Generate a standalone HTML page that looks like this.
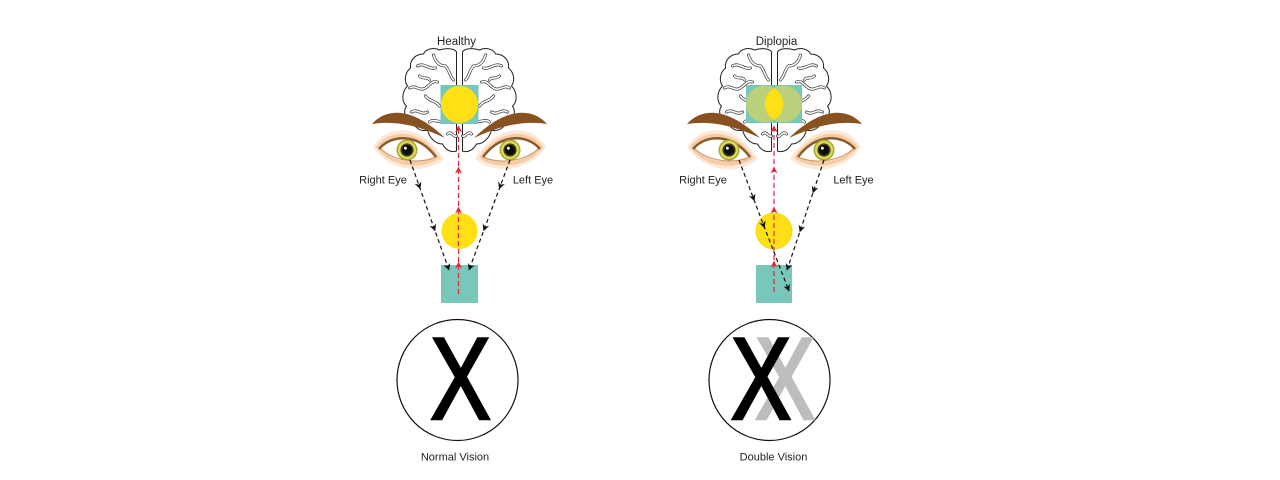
<!DOCTYPE html>
<html>
<head>
<meta charset="utf-8">
<style>
  html,body{margin:0;padding:0;background:#fff;}
  svg{display:block;}
  text{font-family:"Liberation Sans",Arial,sans-serif;}
</style>
</head>
<body>
<svg width="1280" height="480" viewBox="0 0 1280 480" xmlns="http://www.w3.org/2000/svg">
  <defs>
    <marker id="abm" viewBox="0 0 10 10" refX="5" refY="5" markerWidth="7" markerHeight="7" orient="auto" markerUnits="userSpaceOnUse">
      <path d="M0,0 L10,5 L0,10 L3,5 Z" fill="#111"/>
    </marker>
    <marker id="abe" viewBox="0 0 10 10" refX="9" refY="5" markerWidth="7" markerHeight="7" orient="auto" markerUnits="userSpaceOnUse">
      <path d="M0,0 L10,5 L0,10 L3,5 Z" fill="#111"/>
    </marker>
    <marker id="arm" viewBox="0 0 10 10" refX="5" refY="5" markerWidth="7" markerHeight="7" orient="auto" markerUnits="userSpaceOnUse">
      <path d="M0,0 L10,5 L0,10 L3,5 Z" fill="#e3263a"/>
    </marker>
    <marker id="are" viewBox="0 0 10 10" refX="9" refY="5" markerWidth="7" markerHeight="7" orient="auto" markerUnits="userSpaceOnUse">
      <path d="M0,0 L10,5 L0,10 L3,5 Z" fill="#e3263a"/>
    </marker>

    <path id="hemi" d="M -3,52 C -5,48 -14,48 -20,50 C -26,47 -34,49 -36,54 C -44,54 -50,60 -49,68 C -54,72 -56,80 -52,86 C -58,92 -58,102 -53,106 C -57,112 -54,120 -47,120 C -46,128 -38,132 -32,130 C -30,138 -24,144 -17,144 C -14,150 -8,153 -3,151 Z"/>
    <path id="gyri" d="M -42,66 C -36,62 -30,70 -24,68 M -26,55 C -24,62 -20,66 -14,66 C -10,70 -10,76 -6,80 M -50,88 C -44,84 -40,92 -34,88 C -30,86 -28,80 -22,82 M -34,96 C -30,102 -24,100 -20,106 M -48,112 C -42,108 -38,116 -32,112 M -30,122 C -26,118 -20,124 -14,120 M -12,134 C -8,130 -6,138 -3,136 M -40,76 C -36,80 -32,76 -30,80"/>

    <g id="eyeshape">
      <path d="M -35,-3 C -21,-27 14,-27 36,9 C 17,25 -17,23 -35,-3 Z" fill="#fce8d6"/>
      <path d="M -32,-3 C -19,-22 13,-22 32,8 C 15,20 -16,19 -32,-3 Z" fill="#f7cba3"/>
      <path d="M -28,-2 C -16,-15 10,-16 28,7 C 12,14 -14,14 -28,-2 Z" fill="#ffffff"/>
      <path d="M -28,-2 C -14,12 12,14 28,7" fill="none" stroke="#c99468" stroke-width="1"/>
      <path d="M -29,-1 C -16,-16 10,-17 28,7" fill="none" stroke="#8a5a2a" stroke-width="2.4"/>
    </g>
    <g id="iris">
      <circle r="10.5" fill="#a7a634"/>
      <circle r="9" fill="#dcdc52"/>
      <circle r="6.6" fill="#3d3d18"/>
      <circle r="5" fill="#0d0d0d"/>
      <circle cx="-1.6" cy="-1.8" r="1.4" fill="#fff"/>
    </g>
    <path id="brow" d="M 372,124 C 386,108 412,106 445,138 C 422,127 398,120 372,124 Z" fill="#87521f"/>
  </defs>

  <rect width="1280" height="480" fill="#fff"/>

  <!-- ============ HEALTHY ============ -->
  <text x="456.5" y="45" font-size="11.5" text-anchor="middle" fill="#222">Healthy</text>

  <g transform="translate(459.5,0)">
    <use href="#hemi" fill="#fff" stroke="#222" stroke-width="1"/>
    <use href="#gyri" fill="none" stroke="#333" stroke-width="3" stroke-linecap="round"/>
    <use href="#gyri" fill="none" stroke="#fff" stroke-width="1.6" stroke-linecap="round"/>
    <g transform="scale(-1,1)">
      <use href="#hemi" fill="#fff" stroke="#222" stroke-width="1"/>
      <use href="#gyri" fill="none" stroke="#333" stroke-width="3" stroke-linecap="round"/>
      <use href="#gyri" fill="none" stroke="#fff" stroke-width="1.6" stroke-linecap="round"/>
    </g>
  </g>

  <rect x="440.5" y="85" width="38" height="39" fill="#79c6ba"/>
  <circle cx="459.5" cy="104.5" r="18.5" fill="#ffe014"/>

  <use href="#brow"/>
  <use href="#brow" transform="translate(919,0) scale(-1,1)"/>

  <use href="#eyeshape" transform="translate(408,150)"/>
  <use href="#iris" transform="translate(407,150)"/>
  <use href="#eyeshape" transform="translate(511,150) scale(-1,1)"/>
  <use href="#iris" transform="translate(510,150)"/>

  <text x="383" y="183.5" font-size="11" text-anchor="middle" fill="#222">Right Eye</text>
  <text x="533" y="183.5" font-size="11" text-anchor="middle" fill="#222">Left Eye</text>

  <rect x="441" y="265" width="37" height="38" fill="#79c6ba"/>
  <circle cx="459.5" cy="231" r="18" fill="#ffe014"/>

  <path d="M 410,160 L 419.2,186 L 434,228 L 449,270" fill="none" stroke="#111" stroke-width="1.2" stroke-dasharray="4 3" marker-mid="url(#abm)" marker-end="url(#abe)"/>
  <path d="M 510,160 L 500.3,186 L 484.7,228 L 469,270" fill="none" stroke="#111" stroke-width="1.2" stroke-dasharray="4 3" marker-mid="url(#abm)" marker-end="url(#abe)"/>
  <path d="M 458.5,294 L 458.5,265 L 458.5,210 L 458.5,170 L 458.5,126" fill="none" stroke="#e3263a" stroke-width="1.2" stroke-dasharray="5 3" marker-mid="url(#arm)" marker-end="url(#are)"/>

  <circle cx="457.5" cy="380" r="60.5" fill="#fff" stroke="#111" stroke-width="1.2"/>
  <text transform="translate(460.5,419) scale(0.78,1)" font-size="117" text-anchor="middle" fill="#000" stroke="#000" stroke-width="2.6">X</text>
  <text x="455" y="460.5" font-size="11" text-anchor="middle" fill="#222">Normal Vision</text>

  <!-- ============ DIPLOPIA ============ -->
  <text x="776.5" y="45" font-size="11.5" text-anchor="middle" fill="#222">Diplopia</text>

  <g transform="translate(774.5,0)">
    <use href="#hemi" fill="#fff" stroke="#222" stroke-width="1"/>
    <use href="#gyri" fill="none" stroke="#333" stroke-width="3" stroke-linecap="round"/>
    <use href="#gyri" fill="none" stroke="#fff" stroke-width="1.6" stroke-linecap="round"/>
    <g transform="scale(-1,1)">
      <use href="#hemi" fill="#fff" stroke="#222" stroke-width="1"/>
      <use href="#gyri" fill="none" stroke="#333" stroke-width="3" stroke-linecap="round"/>
      <use href="#gyri" fill="none" stroke="#fff" stroke-width="1.6" stroke-linecap="round"/>
    </g>
  </g>

  <rect x="746" y="85" width="56" height="38" fill="#79c6ba"/>
  <circle cx="764.5" cy="104" r="18.5" fill="#bad07a"/>
  <circle cx="783.5" cy="104" r="18.5" fill="#bad07a"/>
  <path d="M 774,88 A 18.5,18.5 0 0 1 774,120 A 18.5,18.5 0 0 1 774,88 Z" fill="#ffe014"/>

  <use href="#brow" transform="translate(315,0)"/>
  <use href="#brow" transform="translate(1234,0) scale(-1,1)"/>

  <use href="#eyeshape" transform="translate(722,150)"/>
  <use href="#iris" transform="translate(729,150)"/>
  <use href="#eyeshape" transform="translate(826,150) scale(-1,1)"/>
  <use href="#iris" transform="translate(824,150)"/>

  <text x="703" y="183.5" font-size="11" text-anchor="middle" fill="#222">Right Eye</text>
  <text x="853.5" y="183.5" font-size="11" text-anchor="middle" fill="#222">Left Eye</text>

  <rect x="756" y="265" width="36" height="38" fill="#79c6ba"/>
  <circle cx="774" cy="231" r="18" fill="#ffe014" stroke="#f0cf10" stroke-width="0.8"/>

  <path d="M 739,160 L 753.3,198 L 763.5,225 L 789,291" fill="none" stroke="#111" stroke-width="1.2" stroke-dasharray="4 3" marker-mid="url(#abm)" marker-end="url(#abe)"/>
  <path d="M 824,160 L 813.9,190 L 800.8,229 L 787,270" fill="none" stroke="#111" stroke-width="1.2" stroke-dasharray="4 3" marker-mid="url(#abm)" marker-end="url(#abe)"/>
  <path d="M 774,292 L 774,264 L 774,210 L 774,170 L 774,126" fill="none" stroke="#e3263a" stroke-width="1.2" stroke-dasharray="5 3" marker-mid="url(#arm)" marker-end="url(#are)"/>

  <circle cx="769.5" cy="380" r="60.5" fill="#fff" stroke="#111" stroke-width="1.2"/>
  <text transform="translate(785,419) scale(0.78,1)" font-size="117" text-anchor="middle" fill="#bdbdbd" stroke="#bdbdbd" stroke-width="2.6">X</text>
  <text transform="translate(761,419) scale(0.78,1)" font-size="117" text-anchor="middle" fill="#000" stroke="#000" stroke-width="2.6">X</text>
  <text x="773.5" y="460.5" font-size="11" text-anchor="middle" fill="#222">Double Vision</text>
</svg>
</body>
</html>
